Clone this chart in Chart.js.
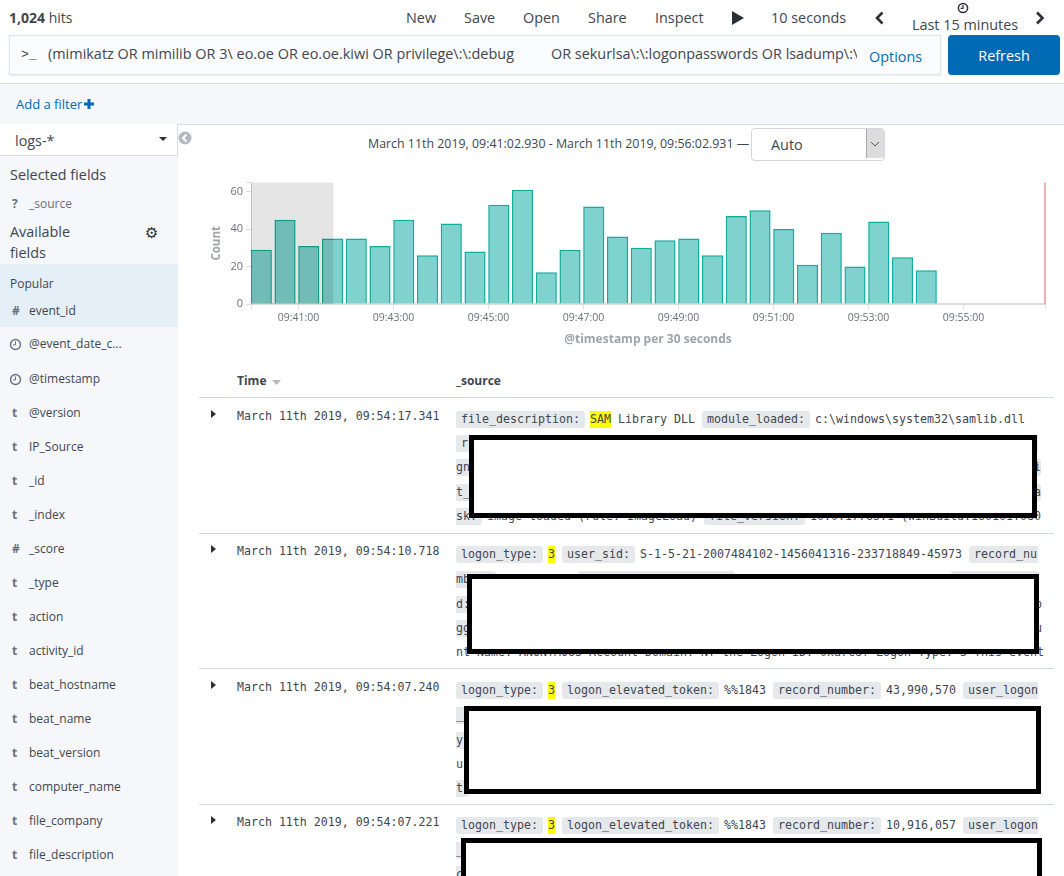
<!DOCTYPE html>
<html>
<head>
<meta charset="utf-8">
<title>Discover</title>
<script src="https://cdn.jsdelivr.net/npm/chart.js@4/dist/chart.umd.min.js"></script>
<style>
html, body { margin: 0; padding: 0; background: #fff; width: 1064px; height: 876px; overflow: hidden; }
body { position: relative; font-family: "Open Sans", sans-serif; font-size: 14.4px; color: #3f4650; }
.a { position: absolute; white-space: nowrap; line-height: 20px; }
.blue { color: #006bb4; }
.field { font-size: 12px; color: #3f4650; }
.ftype { font-size: 12px; color: #69707d; font-weight: 700; }
.ln { position: absolute; left: 456px; height: 17px; line-height: 17px; white-space: nowrap; overflow: hidden; font-family: "DejaVu Sans Mono", monospace; font-size: 11.63px; color: #3f4650; }
.ln b { font-weight: 400; display: inline-block; background: #e6e9ec; border-radius: 3px; padding: 0 5px; margin-right: 5px; height: 17px; }
.ln b.cont { padding-left: 0; border-radius: 0 3px 3px 0; }
.ln i { font-style: normal; display: inline-block; background: #ff0; color: #3f4650; margin-right: 7px; }
.ln u { text-decoration: none; margin-right: 7px; }
.peek { position: absolute; height: 17px; background: #e6e9ec; border-radius: 3px; }
.time { position: absolute; left: 237px; height: 17px; line-height: 17px; font-family: "DejaVu Sans Mono", monospace; font-size: 11.6px; color: #3f4650; white-space: nowrap; }
.rule { position: absolute; left: 199px; width: 855px; height: 1px; background: #d3dae6; }
.arrow { position: absolute; left: 211px; width: 0; height: 0; border-left: 5px solid #2b3038; border-top: 4px solid transparent; border-bottom: 4px solid transparent; }
.box { position: absolute; box-sizing: border-box; border: 5px solid #000; background: #fff; z-index: 5; }
</style>
</head>
<body>

<!-- top menu -->
<div class="a" style="left:9px;top:8px;font-size:14px"><strong>1,024</strong> hits</div>
<div class="a" style="left:406px;top:8px">New</div>
<div class="a" style="left:464px;top:8px">Save</div>
<div class="a" style="left:523px;top:8px">Open</div>
<div class="a" style="left:588px;top:8px">Share</div>
<div class="a" style="left:655px;top:8px">Inspect</div>
<svg class="a" style="left:732px;top:11px" width="13" height="14"><path d="M0 0L12 7L0 14Z" fill="#2b3038"/></svg>
<div class="a" style="left:771px;top:8px">10 seconds</div>
<svg class="a" style="left:875px;top:11px" width="10" height="14"><path d="M7.5 1.5L2 7L7.5 12.5" fill="none" stroke="#2b3038" stroke-width="2.6"/></svg>
<div class="a" style="left:912px;top:15px">Last 15 minutes</div>
<svg class="a" style="left:957px;top:2px" width="12" height="12"><circle cx="6" cy="6" r="4.6" fill="none" stroke="#2b3038" stroke-width="1.5"/><path d="M6 3V6.4H3.6" fill="none" stroke="#2b3038" stroke-width="1.2"/></svg>
<svg class="a" style="left:1035px;top:11px" width="10" height="14"><path d="M2 1.5L7.5 7L2 12.5" fill="none" stroke="#2b3038" stroke-width="2.6"/></svg>

<!-- query bar -->
<div class="a" style="left:9px;top:35px;width:930px;height:38px;background:#fbfcfd;border:1px solid #e0e4ea;box-shadow:0 1px 2px rgba(0,0,0,.08)"></div>
<div class="a" style="left:21px;top:45px;font-size:13px;font-family:'Liberation Mono',monospace">&gt;_</div>
<div class="a" style="left:48px;top:44px;font-size:14.45px">(mimikatz OR mimilib OR 3\ eo.oe OR eo.oe.kiwi OR privilege\:\:debug</div>
<div class="a" style="left:551px;top:44px;width:306px;overflow:hidden">OR sekurlsa\:\:logonpasswords OR lsadump\:\:</div>
<div class="a blue" style="left:869px;top:47px">Options</div>
<div class="a" style="left:948px;top:35px;width:112px;height:40px;line-height:42px;background:#006bb4;border-radius:4px;color:#fff;text-align:center">Refresh</div>

<!-- filter bar -->
<div class="a" style="left:0;top:83px;width:1064px;height:40px;background:#f5f7fa;border-top:1px solid #d9dde3;border-bottom:1px solid #d9dde3"></div>
<div class="a blue" style="left:16px;top:94px;font-size:13px">Add a filter</div>
<svg class="a" style="left:84px;top:99px" width="10" height="10"><path d="M5 0V10M0 5H10" stroke="#006bb4" stroke-width="3"/></svg>

<!-- sidebar -->
<div class="a" style="left:0;top:124px;width:178px;height:752px;background:#f5f7fa"></div>
<div class="a" style="left:0;top:124px;width:177px;height:31px;background:#fff;border-right:1px solid #d9dde3;border-bottom:1px solid #d9dde3"></div>
<div class="a" style="left:15px;top:131px">logs-*</div>
<svg class="a" style="left:159px;top:137px" width="9" height="5"><path d="M0 0H8L4 4Z" fill="#2b3038"/></svg>
<svg class="a" style="left:178px;top:131px" width="14" height="14"><circle cx="7" cy="7" r="6.5" fill="#b5b9bf"/><path d="M8.5 3.5L5 7L8.5 10.5" fill="none" stroke="#fff" stroke-width="2"/></svg>
<div class="a" style="left:10px;top:165px">Selected fields</div>
<div class="a ftype" style="left:12px;top:194px">?</div>
<div class="a field" style="left:29px;top:194px;color:#69707d">_source</div>
<div class="a" style="left:10px;top:222px">Available</div>
<div class="a" style="left:10px;top:243px">fields</div>
<div class="a" style="left:145px;top:223px;font-family:'DejaVu Sans';font-size:15px;color:#2b3038">&#9881;</div>
<div class="a" style="left:0;top:264px;width:178px;height:63px;background:#e4eff7"></div>
<div class="a field" style="left:10px;top:274px">Popular</div>
<div id="fields"></div>

<!-- histogram -->
<div class="a" style="left:368px;top:134px;font-size:12.4px">March 11th 2019, 09:41:02.930 - March 11th 2019, 09:56:02.931 &mdash;</div>
<div class="a" style="left:751px;top:128px;width:132px;height:31px;border:1px solid #d3d6db;border-radius:4px;background:#fff;box-sizing:content-box"></div>
<div class="a" style="left:771px;top:135px">Auto</div>
<div class="a" style="left:866px;top:129px;width:17px;height:29px;background:#dcdcdc;border-left:1px solid #aaa;border-radius:0 3px 3px 0"></div>
<svg class="a" style="left:870px;top:141px" width="10" height="6"><path d="M1 1L5 5L9 1" fill="none" stroke="#555" stroke-width="1"/></svg>
<canvas id="histogram" width="855" height="176" style="position:absolute;left:205px;top:173px"></canvas>

<!-- table -->
<div class="a" style="left:237px;top:371px;font-size:12px;font-weight:700">Time</div>
<svg class="a" style="left:272px;top:380px" width="9" height="5"><path d="M0 0H9L4.5 5Z" fill="#b4b8be"/></svg>
<div class="a" style="left:456px;top:371px;font-size:12px;font-weight:700">_source</div>
<div class="rule" style="top:397px"></div>
<div id="rows"></div>
<div class="box" style="left:469px;top:435px;width:568px;height:83px"></div>
<div class="box" style="left:467px;top:574px;width:572px;height:80px"></div>
<div class="box" style="left:464px;top:706px;width:577px;height:88px"></div>
<div class="box" style="left:461px;top:838px;width:581px;height:60px"></div>

<script>
// bucket start of every bar, one per 30 seconds
const bucketStarts = ['09:40:00', '09:40:30', '09:41:00', '09:41:30', '09:42:00', '09:42:30', '09:43:00', '09:43:30',
    '09:44:00', '09:44:30', '09:45:00', '09:45:30', '09:46:00', '09:46:30', '09:47:00', '09:47:30', '09:48:00', '09:48:30',
    '09:49:00', '09:49:30', '09:50:00', '09:50:30', '09:51:00', '09:51:30', '09:52:00', '09:52:30', '09:53:00', '09:53:30', '09:54:00']
const counts = [29, 45, 31, 35, 35, 31, 45, 26, 43, 28, 53, 61, 17, 29, 52, 36, 30, 34, 35, 26, 47, 50, 40, 21, 38, 20, 44, 25, 18]
const xTickLabels = ['09:41:00', '09:43:00', '09:45:00', '09:47:00', '09:49:00', '09:51:00', '09:53:00', '09:55:00']
const yTickValues = [0, 20, 40, 60]

// sidebar field list
const fieldNames = ['event_id', '@event_date_c...', '@timestamp', '@version', 'IP_Source', '_id', '_index', '_score', '_type',
    'action', 'activity_id', 'beat_hostname', 'beat_name', 'beat_version', 'computer_name', 'file_company', 'file_description']
const fieldTypes = ['#', 'clock', 'clock', 't', 't', 't', 't', '#', 't', 't', 't', 't', 't', 't', 't', 't', 't']
const fieldTops = [301, 334, 369, 403, 437, 471, 505, 539, 573, 607, 641, 675, 709, 743, 777, 811, 845]

const rowTimes = ['March 11th 2019, 09:54:17.341', 'March 11th 2019, 09:54:10.718', 'March 11th 2019, 09:54:07.240', 'March 11th 2019, 09:54:07.221']

const toSeconds = (t) => {
    let parts = t.split(':')
    return parts[0] * 3600 + parts[1] * 60 + Number(parts[2])
}
const toLabel = (s) => {
    let pad = (n) => String(n).padStart(2, '0')
    return `${pad(Math.floor(s / 3600))}:${pad(Math.floor(s / 60) % 60)}:${pad(s % 60)}`
}

const xMin = toSeconds('09:40:00')
const xMax = toSeconds('09:56:43')
const yMax = 64.8
const partialEnd = toSeconds('09:41:44')
const tickColor = '#dcdcdc'

// grey partial-bucket shade and the pink "now" marker, placed through the scales
const overlays = {
    id: 'overlays',
    afterDatasetsDraw(chart) {
        let { ctx, chartArea, scales } = chart
        let right = scales.x.getPixelForValue(partialEnd)
        ctx.save()
        ctx.fillStyle = 'rgba(0,0,0,0.1)'
        ctx.fillRect(chartArea.left, chartArea.top, right - chartArea.left, chartArea.height)
        ctx.fillStyle = '#f0b0b0'
        ctx.fillRect(scales.x.getPixelForValue(xMax) - 1, chartArea.top, 2, chartArea.height)
        ctx.restore()
    }
}

new Chart(document.getElementById('histogram'), {
    type: 'bar',
    data: {
        datasets: [{
            // bars sit at the left of their 30 second bucket
            data: bucketStarts.map((t, i) => ({ x: toSeconds(t) + 13, y: counts[i] })),
            backgroundColor: 'rgba(0,166,155,0.5)',
            borderColor: '#10ad9f',
            borderWidth: 1.5,
            barPercentage: 0.89,
            categoryPercentage: 1
        }]
    },
    options: {
        responsive: false,
        animation: false,
        devicePixelRatio: 1,
        layout: { padding: { top: 0, right: 15, bottom: 0, left: 0 } },
        plugins: { legend: { display: false }, tooltip: { enabled: false } },
        scales: {
            x: {
                type: 'linear',
                offset: false,
                min: xMin,
                max: xMax,
                afterBuildTicks: (scale) => {
                    scale.ticks = [xMin, ...xTickLabels.map(toSeconds), xMax].map((value) => ({ value }))
                },
                afterFit: (scale) => { scale.height = 45 },
                grid: { offset: false, drawOnChartArea: false, color: tickColor, tickLength: 5 },
                border: { color: tickColor, width: 2 },
                ticks: {
                    autoSkip: false,
                    maxRotation: 0,
                    padding: 3,
                    color: '#6b6f76',
                    font: { family: 'Open Sans', size: 10.5 },
                    callback: (value) => (value == xMin || value == xMax) ? '' : toLabel(value)
                },
                title: {
                    display: true,
                    text: '@timestamp per 30 seconds',
                    color: '#a0a3a8',
                    font: { family: 'Open Sans', size: 12, weight: 'bold' },
                    padding: { top: 0, bottom: 2 }
                }
            },
            y: {
                min: 0,
                max: yMax,
                afterBuildTicks: (scale) => {
                    scale.ticks = [...yTickValues, yMax].map((value) => ({ value }))
                },
                afterFit: (scale) => { scale.width = 46 },
                grid: { drawOnChartArea: false, color: tickColor, tickLength: 5 },
                border: { color: tickColor, width: 1 },
                ticks: {
                    padding: 3,
                    color: '#6b6f76',
                    font: { family: 'Open Sans', size: 11 },
                    callback: (value) => value == yMax ? '' : value
                },
                title: {
                    display: true,
                    text: 'Count',
                    color: '#a0a3a8',
                    font: { family: 'Open Sans', size: 11.5, weight: 'bold' },
                    padding: { top: 5, bottom: 0 }
                }
            }
        }
    },
    plugins: [overlays]
})

// sidebar rows
const clockIcon = '<svg width="13" height="13" style="position:absolute;left:9px;top:4px"><circle cx="6.5" cy="6.5" r="5" fill="none" stroke="#69707d" stroke-width="1.4"/><path d="M6.5 3.4V6.9H4" fill="none" stroke="#69707d"/></svg>'
let sidebar = ''
fieldNames.forEach((name, i) => {
    let icon = fieldTypes[i] == 'clock' ? clockIcon : `<span class="a ftype" style="left:12px;top:0">${fieldTypes[i]}</span>`
    sidebar += `<div class="a" style="left:0;top:${fieldTops[i]}px;width:178px;height:20px">${icon}<span class="a field" style="left:29px;top:0;color:#3f4650">${name}</span></div>`
})
document.getElementById('fields').innerHTML = sidebar

// table rows, every line is mostly hidden by a redaction box
const pill = (t) => `<b>${t}</b>`
const cont = (t) => `<b class="cont">${t}</b>`
const hit = (t) => `<i>${t}</i>`
const val = (t) => `<u>${t}</u>`
const line = (top, html, width, left) => `<div class="ln" style="top:${top}px;width:${width || 582}px;left:${left || 456}px">${html}</div>`
const peek = (top, left, right) => `<div class="peek" style="top:${top}px;left:${left}px;width:${right - left}px"></div>`

let rows = ''
rowTimes.forEach((t, i) => {
    rows += `<div class="time" style="top:${[408, 543, 679, 814][i]}px">${t}</div>`
    rows += `<div class="arrow" style="top:${[410, 545, 681, 816][i]}px"></div>`
})
;[533, 668, 804].forEach((top) => { rows += `<div class="rule" style="top:${top}px"></div>` })

rows += line(411, pill('file_description:') + hit('SAM') + val('Library DLL') + pill('module_loaded:') + val('c:\\windows\\system32\\samlib.dll'))
rows += peek(435, 456, 563) + peek(435, 626, 768) + peek(435, 812, 936) + peek(435, 1029, 1038)
rows += line(435, pill('r'))
rows += line(459, cont('gn')) + peek(459, 1030, 1041) + line(459, 'i', 10, 1034)
rows += line(484, cont('t_')) + peek(484, 1030, 1041) + line(484, 'a', 10, 1034)
rows += line(508, cont('sk:') + val('image loaded (rule: ImageLoad)') + pill('file_version:') + val('10.0.17763.1 (WinBuild.160101.080'), 586)

rows += line(546, pill('logon_type:') + hit('3') + pill('user_sid:') + val('S-1-5-21-2007484102-1456041316-233718849-45973') + pill('record_nu'))
rows += peek(571, 456, 496) + peek(571, 578, 735) + peek(571, 951, 1039)
rows += line(571, cont('mb'))
rows += line(596, cont('d:')) + line(596, 'p', 10, 1035)
rows += line(620, cont('gg')) + line(620, 'u', 10, 1035)
rows += line(644, val('nt Name: ANONYMOUS Account Domain: NT the Logon ID: 0xa7c8f Logon Type: 3 This event'), 596)

rows += line(682, pill('logon_type:') + hit('3') + pill('logon_elevated_token:') + val('%%1843') + pill('record_number:') + val('43,990,570') + pill('user_logon'))
rows += peek(707, 456, 488) + peek(707, 805, 968) + peek(707, 1022, 1038)
rows += line(707, cont('__'))
rows += line(732, cont('y'))
rows += line(756, val('u'))
rows += line(780, cont('t'))

rows += line(817, pill('logon_type:') + hit('3') + pill('logon_elevated_token:') + val('%%1843') + pill('record_number:') + val('10,916,057') + pill('user_logon'))
rows += peek(842, 456, 488)
rows += line(842, cont('__'))
rows += line(866, cont('c'))
document.getElementById('rows').innerHTML = rows
</script>
</body>
</html>
